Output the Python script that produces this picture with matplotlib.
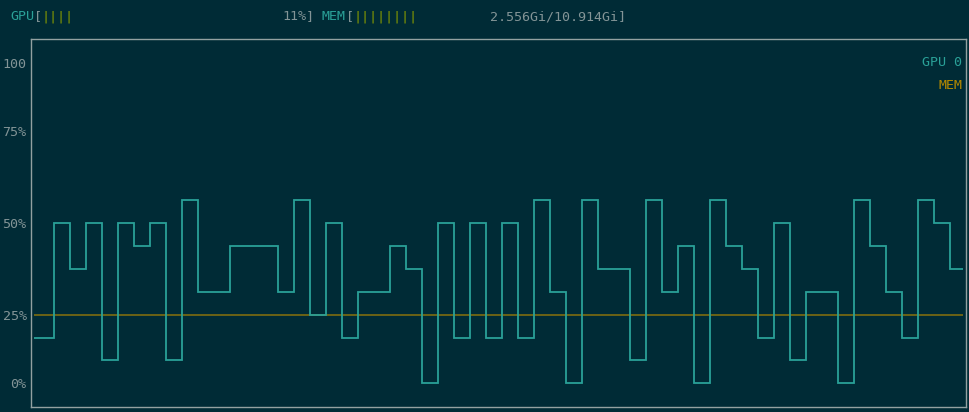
import math
import numpy as np
import matplotlib
matplotlib.use("Agg")
import matplotlib.pyplot as plt

# GPU 0 utilisation history (%), one value per sample, oldest first
gpu_usage = [14, 50, 36, 50, 7, 50, 43, 50, 7, 57,
             29, 29, 43, 43, 43, 29, 57, 21, 50, 14,
             29, 29, 43, 36, 0, 50, 14, 50, 14, 50,
             14, 57, 29, 0, 57, 36, 36, 7, 57, 29,
             43, 0, 57, 43, 36, 14, 50, 7, 29, 29,
             0, 57, 43, 29, 14, 57, 50, 36]
gpu_now = 11            # %
mem_used = 2.556        # Gi
mem_total = 10.914      # Gi
ytick_labels = ["0%", "25%", "50%", "75%", "100"]
ytick_rows = [0, 3, 7, 11, 14]
n_rows = 14

BG = "#002b36"
TEAL = "#2aa198"
YELLOW = "#b58900"
OLIVE = "#859900"
GRAY = "#839496"
FRAME = "#93a1a1"
MONO = "DejaVu Sans Mono"
FS = 9.6

mem_pct = mem_used / mem_total * 100
gpu_rows = np.round(np.array(gpu_usage) / 100 * n_rows)
mem_rows = np.full(len(gpu_usage), np.round(mem_pct / 100 * n_rows))
edges = np.arange(len(gpu_usage) + 1, dtype=float)
# the oldest and newest samples are partly cut by the plot margins
edges[0] -= 0.27
edges[-1] -= 0.22

fig = plt.figure(figsize=(9.70, 4.12), dpi=100, facecolor=BG)
ax = fig.add_axes([30.7 / 970, 1 - 406.7 / 412, (966 - 30.7) / 970, (406.7 - 39) / 412])
ax.set_facecolor(BG)

ax.stairs(mem_rows, edges, baseline=None, color=YELLOW, lw=1.1, alpha=0.75)
ax.stairs(gpu_rows, edges, baseline=None, color=TEAL, lw=1.3)

ax.set_xlim(-0.475, 57.98)
ax.set_ylim(-1.02, 15.03)
ax.set_xticks([])
ax.set_yticks(ytick_rows)
ax.set_yticklabels(ytick_labels, family=MONO, fontsize=FS, color=GRAY)
ax.tick_params(axis="y", length=0, pad=3)
for s in ax.spines.values():
    s.set_color(FRAME)
    s.set_linewidth(1.0)

# legend in top right corner
ax.text(0.996, 14, "GPU 0", transform=ax.get_yaxis_transform(), ha="right", va="center",
        family=MONO, fontsize=FS, color=TEAL)
ax.text(0.996, 13, "MEM", transform=ax.get_yaxis_transform(), ha="right", va="center",
        family=MONO, fontsize=FS, color=YELLOW)

# header meters, laid out on a character grid
gpu_bars = math.ceil(gpu_now / 100 * 31)
mem_bars = math.ceil(mem_pct / 100 * 33)
mem_txt = f"{mem_used:.3f}Gi/{mem_total:.3f}Gi"
pieces = [
    (0, "GPU", TEAL), (3, "[", GRAY), (4, "|" * gpu_bars, OLIVE),
    (34, f"{gpu_now}%", GRAY), (37, "]", GRAY),
    (39, "MEM", TEAL), (42, "[", GRAY), (43, "|" * mem_bars, OLIVE),
    (60, mem_txt, GRAY), (60 + len(mem_txt), "]", GRAY),
]
for col, txt, c in pieces:
    fig.text((10 + 8 * col) / 970, 1 - 17 / 412, txt, ha="left", va="center",
             family=MONO, fontsize=FS, color=c)

fig.savefig("out.png", dpi=100, facecolor=BG)
